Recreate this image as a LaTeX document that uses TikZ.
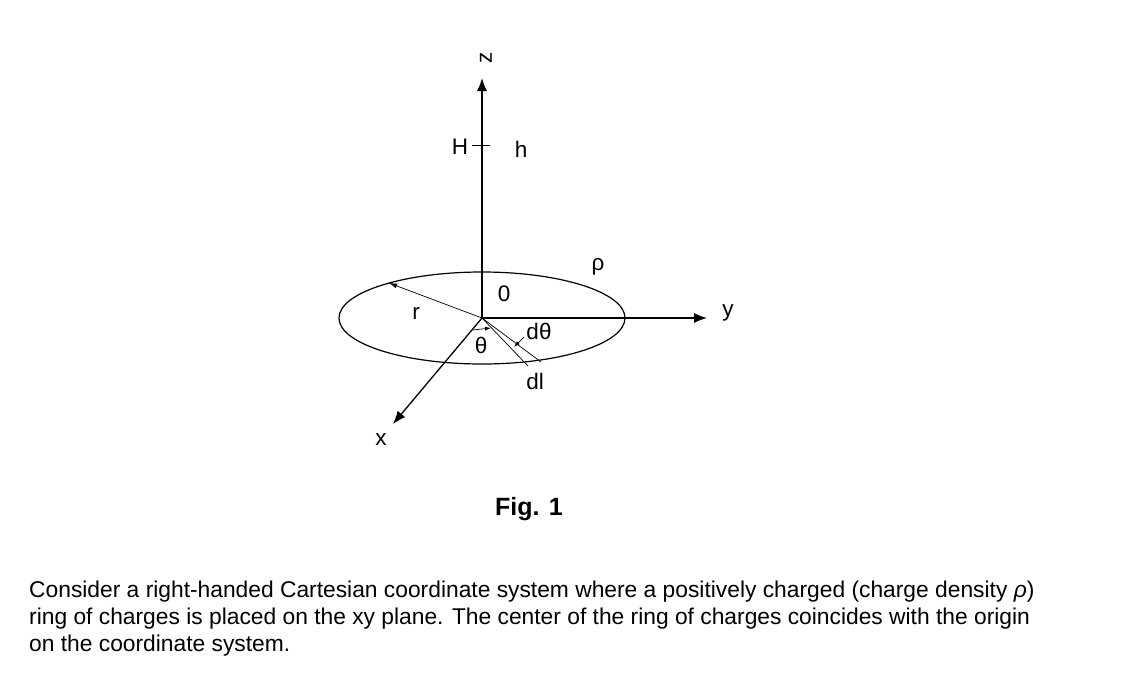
\documentclass[tikz,border=0pt]{standalone}
\usepackage{fontspec}
\setmainfont{Liberation Sans}
\usetikzlibrary{arrows.meta}
\begin{document}
\begin{tikzpicture}[x=1pt,y=-1pt,
  lbl/.style={font=\fontsize{22.5}{26}\selectfont,inner sep=0pt},
  axis/.style={line width=1.3pt,-{Latex[length=13pt,width=10pt]}},
  thin/.style={line width=0.7pt}]
\useasboundingbox (0,0) rectangle (1121,678);
\coordinate (O) at (482,318);
\coordinate (zt) at (482,78);
\coordinate (yt) at (707,318);
\coordinate (xt) at (393,424);
\draw[line width=1.2pt] (O) ellipse [x radius=143, y radius=46];
\draw[axis] (O) -- (zt);
\draw[axis] (O) -- (yt);
\draw[axis] (O) -- (xt);
\coordinate (h1) at (472,145); \coordinate (h2) at (490,145);
\draw[thin] (h1) -- (h2);
\node[lbl,rotate=90] (z) at (486,58) {z};
\node[lbl] (H) at (460,147) {H};
\node[lbl] (h) at (521,149) {h};
\node[lbl] (y) at (728,313) {y};
\node[lbl] (x) at (381,440) {x};
\node[lbl] (zero) at (504,294) {0};
\node[lbl] (rho) at (598,267) {ρ};
\node[lbl] (r) at (416,313) {r};
\node[lbl] (th) at (481,345) {θ};
\node[lbl] (dth) at (539,331) {dθ};
\node[lbl] (dl) at (535,381) {dl};
\coordinate (r1) at (389,283);
\draw[thin,-{Latex[length=8pt,width=5pt]}] (O) -- (r1);
\coordinate (l1) at (528,366); \coordinate (l2) at (541,362);
\draw[thin] (O) -- (l1);
\draw[thin] (O) -- (l2);
\coordinate (ta) at (473,330); \coordinate (tb) at (491,328);
\draw[thin,-{Latex[length=6pt,width=4pt]}] (ta) -- (tb);
\coordinate (da) at (524,337); \coordinate (db) at (514,347);
\draw[thin,-{Latex[length=6pt,width=4pt]}] (da) -- (db);
\node[font=\bfseries\fontsize{25}{28}\selectfont,inner sep=0pt] (fig) at (529,509) {Fig. 1};
\node[lbl,anchor=north west,align=left,font=\fontsize{22.8}{27}\selectfont] (cap) at (29,581)
 {Consider a right-handed Cartesian coordinate system where a positively charged (charge density \textit{ρ})\\
 ring of charges is placed on the xy plane. The center of the ring of charges coincides with the origin\\
 on the coordinate system.};
\end{tikzpicture}
\end{document}
